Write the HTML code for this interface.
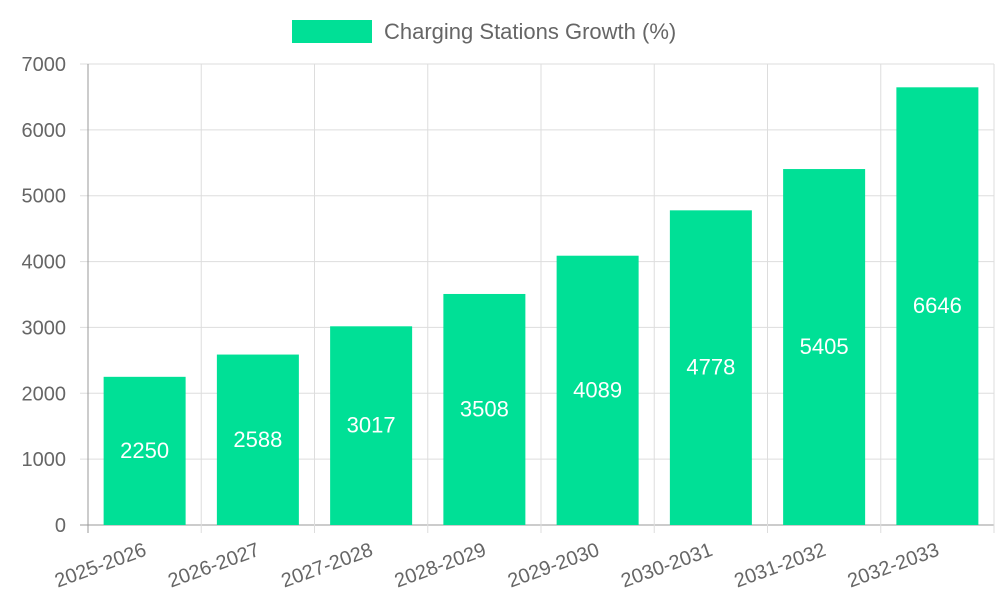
<!DOCTYPE html>
<html><head><meta charset="utf-8"><style>
body{margin:0;background:#fff;font-family:"Liberation Sans",sans-serif}
</style></head><body>
<svg id="chart" width="1000" height="600" xmlns="http://www.w3.org/2000/svg" font-family="Liberation Sans, sans-serif">
<g>
<rect x="292" y="20" width="80" height="23" fill="#00e096"/>
<text x="384" y="39" font-size="22" fill="#666">Charging Stations Growth (%)</text>
</g>
<g id="grid"></g>
<g id="bars"></g>
<g id="axes"></g>
</svg>
<script>
const categories=["2025-2026","2026-2027","2027-2028","2028-2029","2029-2030","2030-2031","2031-2032","2032-2033"];
const values=[2250,2588,3017,3508,4089,4778,5405,6646];
const yTicks=[0,1000,2000,3000,4000,5000,6000,7000];
const NS="http://www.w3.org/2000/svg";
const L=88,R=994,T=64,B=525,yMax=7000;
const bw=(R-L)/categories.length;
const y=v=>B-(v/yMax)*(B-T);
const x=i=>L+i*bw;
function mk(tag,attrs,parent,text){const e=document.createElementNS(NS,tag);for(const k in attrs)e.setAttribute(k,attrs[k]);if(text!==undefined)e.textContent=text;parent.appendChild(e);return e;}
const grid=document.getElementById('grid'),bars=document.getElementById('bars'),axes=document.getElementById('axes');
yTicks.forEach(t=>{
  const l=mk('line',{x1:L-8,x2:R,y1:y(t),y2:y(t),stroke:t===0?'#999':'#ddd','stroke-width':1},grid);
  
  
  const tx=mk('text',{x:L-22,y:y(t)+7,'text-anchor':'end','font-size':20,fill:'#666'},axes,String(t));
  
  
});
for(let i=0;i<=categories.length;i++){
  const l=mk('line',{x1:x(i),x2:x(i),y1:T,y2:B+8,stroke:i===0?'#999':'#ddd','stroke-width':1},grid);
  
  
}
categories.forEach((c,i)=>{
  const cx=x(i)+bw/2;
  const r=mk('rect',{x:cx-41,y:y(values[i]),width:82,height:B-y(values[i]),fill:'#00e096'},bars);
  
  
  const v=mk('text',{x:cx,y:(y(values[i])+B)/2+7,'text-anchor':'middle','font-size':22,fill:'#fff'},bars,String(values[i]));
  
  
  const t=mk('text',{x:cx+3,y:B+30,'text-anchor':'end','font-size':20,fill:'#666',transform:`rotate(-20 ${cx+3} ${B+30})`},axes,c);
  
  
});
</script>
</body></html>
